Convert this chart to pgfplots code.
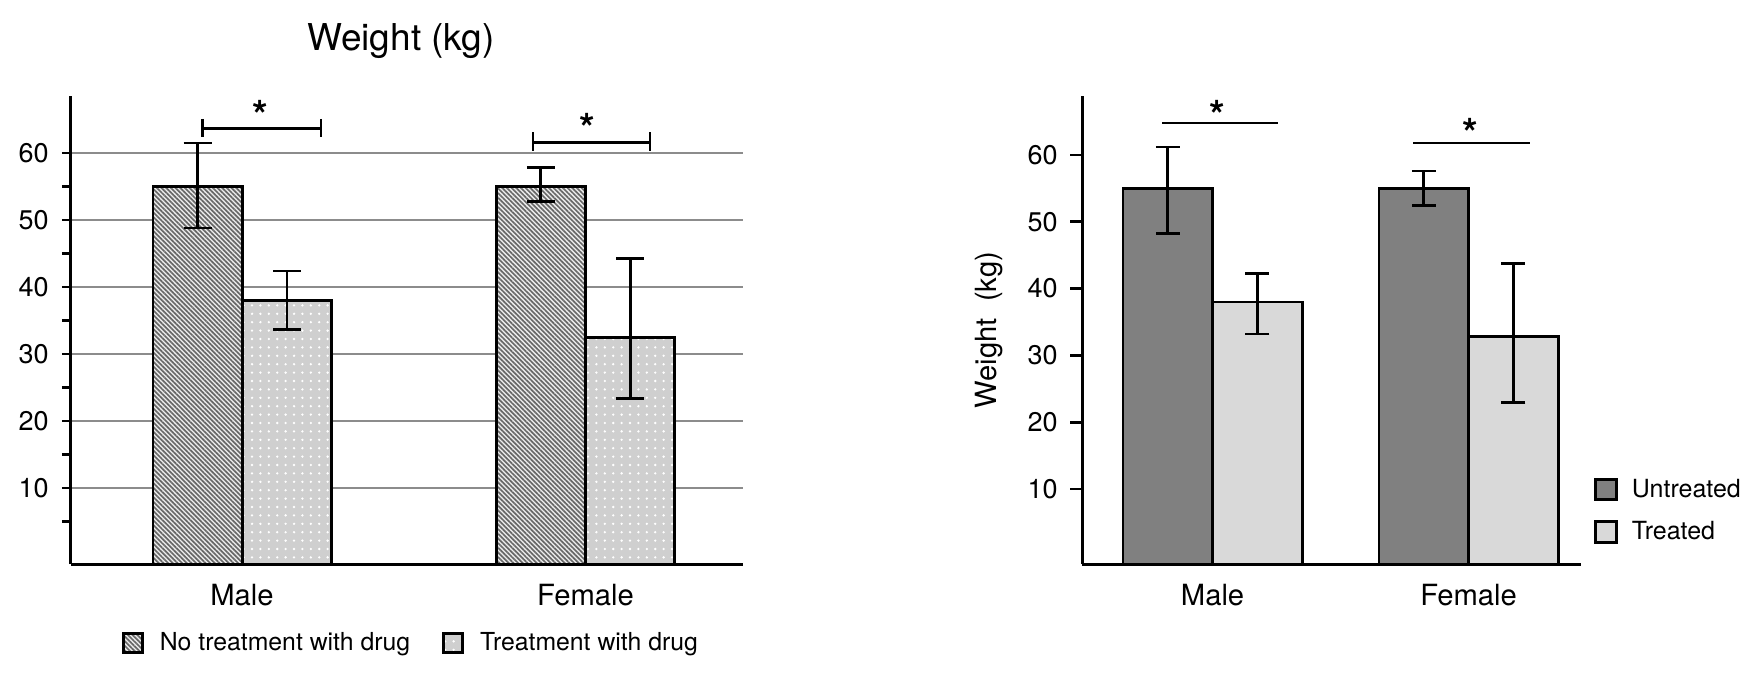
\documentclass[border=0pt]{standalone}
\usepackage{fontspec}
\setmainfont{TeX Gyre Heros}
\usepackage{pgfplots}
\pgfplotsset{compat=1.18}
\usetikzlibrary{patterns.meta}

\definecolor{hatchgray}{HTML}{686868}
\definecolor{hatchbg}{HTML}{EEEEEE}
\definecolor{dotgray}{HTML}{CFCFCF}
\definecolor{darkbar}{HTML}{808080}
\definecolor{lightbar}{HTML}{D9D9D9}
\definecolor{gridgray}{HTML}{8C8C8C}

\tikzset{
  hatchbar/.style={draw=black, line width=1.4pt, line join=miter,
    preaction={fill=hatchbg},
    pattern={Lines[angle=-45, distance=1.65pt, line width=0.85pt]},
    pattern color=hatchgray},
  dotbar/.style={draw=black, line width=1.4pt, line join=miter,
    preaction={fill=dotgray},
    pattern={Dots[distance=4.2pt, radius=0.65pt]},
    pattern color=white},
  darkbar/.style={draw=black, line width=1.4pt, line join=miter, fill=darkbar},
  lightbar/.style={draw=black, line width=1.4pt, line join=miter, fill=lightbar},
  star/.style={anchor=north, inner sep=0pt, font=\fontsize{20}{20}\bfseries},
}

\pgfplotsset{
  common/.style={
    scale only axis, clip=false,
    axis x line*=bottom, axis y line*=left,
    axis line style={line width=1.5pt},
    xtick={1,2}, xticklabels={Male,Female},
    x tick style={draw=none},
    ytick={10,20,...,60},
    y tick style={line width=1.4pt, black},
    tick align=outside,
    /pgf/number format/assume math mode=true,
    y tick label style={font=\fontsize{13.5}{15}\selectfont, inner sep=0pt},
    x tick label style={font=\fontsize{14.6}{17}\selectfont, inner sep=0pt, anchor=north},
  },
  errbar/.style={draw=none, mark=none, forget plot,
    error bars/.cd, y dir=both, y explicit,
    error bar style={draw=black, line width=1.4pt},
    error mark options={rotate=90, draw=black, line width=1.4pt, mark size=#1}},
}

\begin{document}
\begin{tikzpicture}
\path[use as bounding box] (0,0) rectangle (882pt,-337.5pt);

% left panel: patterned bars with grid
\begin{axis}[common,
  at={(35.5pt,-282pt)}, anchor=south west,
  width=336pt, height=234pt,
  xmin=0.502, xmax=2.4585, ymin=-1.343, ymax=68.507,
  minor ytick={5,15,...,55},
  major tick length=4.5pt, minor tick length=4.5pt,
  ymajorgrids, major grid style={gridgray, line width=0.65pt},
  y tick label style={xshift=-6.5pt},
  x tick label style={yshift=-5.5pt},
  legend columns=2,
  legend image code/.code={\draw[#1] (0pt,-4.75pt) rectangle (9.5pt,4.75pt);},
  legend style={draw=none, fill=none, inner sep=0pt, outer sep=0pt,
    at={(0.0759,-0.1453)}, anchor=north west,
    font=\fontsize{12.4}{15}\selectfont,
    nodes={inner sep=0pt}, cells={anchor=west},
    /tikz/every odd column/.append style={column sep=8pt},
    /tikz/every even column/.append style={column sep=16pt}},
]
\addplot[hatchbar] coordinates {(0.741,-1.343) (0.741,55) (1.001,55) (1.001,-1.343)} -- cycle;
\addlegendentry{No treatment with drug}
\addplot[dotbar] coordinates {(1.001,-1.343) (1.001,38) (1.261,38) (1.261,-1.343)} -- cycle;
\addlegendentry{Treatment with drug}
\addplot[hatchbar, forget plot] coordinates {(1.740,-1.343) (1.740,55) (2.000,55) (2.000,-1.343)} -- cycle;
\addplot[dotbar, forget plot] coordinates {(2.000,-1.343) (2.000,32.5) (2.260,32.5) (2.260,-1.343)} -- cycle;

\addplot[errbar=7pt] coordinates {
  (0.871,55)   += (0,6.5)  -= (0,6.2)
  (1.131,38)   += (0,4.4)  -= (0,4.4)
  (1.870,55)   += (0,2.8)  -= (0,2.2)
  (2.130,32.5) += (0,11.7) -= (0,9.1)
};

% significance brackets
\draw[line width=1.4pt]
  (axis cs:0.886,65.1) -- (axis cs:0.886,62.4)
  (axis cs:0.886,63.6) -- (axis cs:1.230,63.6)
  (axis cs:1.230,65.1) -- (axis cs:1.230,62.4);
\draw[line width=1.4pt]
  (axis cs:1.847,63.1) -- (axis cs:1.847,60.3)
  (axis cs:1.847,61.6) -- (axis cs:2.188,61.6)
  (axis cs:2.188,63.1) -- (axis cs:2.188,60.3);
\node[star] at (axis cs:1.052,67.9) {*};
\node[star] at (axis cs:2.004,66.0) {*};
\end{axis}
\node[anchor=base, inner sep=0pt, font=\fontsize{18.5}{22}\selectfont] at (200.5pt,-25pt) {Weight (kg)};

% right panel: plain grey bars
\begin{axis}[common,
  at={(541pt,-282pt)}, anchor=south west,
  width=249.5pt, height=234pt,
  xmin=0.49, xmax=2.439, ymin=-1.23, ymax=68.83,
  major tick length=6pt,
  y tick label style={xshift=-6pt},
  x tick label style={yshift=-3.75pt},
  ylabel={Weight\ \ (kg)},
  ylabel style={at={(-0.1864,0.5)}, anchor=center, rotate=0, font=\fontsize{14.6}{18}\selectfont},
  legend columns=1,
  legend image code/.code={\draw[#1] (0pt,-5.1pt) rectangle (10.5pt,5.1pt);},
  legend style={draw=none, fill=none, inner sep=0pt, outer sep=0pt,
    at={(1.026,0.1836)}, anchor=north west,
    font=\fontsize{12.5}{15}\selectfont,
    nodes={inner sep=0pt}, cells={anchor=west},
    row sep=9.6pt,
    /tikz/every odd column/.append style={column sep=7pt}},
]
\addplot[darkbar] coordinates {(0.65,-1.23) (0.65,55) (1.00,55) (1.00,-1.23)} -- cycle;
\addlegendentry{Untreated}
\addplot[lightbar] coordinates {(1.00,-1.23) (1.00,38) (1.35,38) (1.35,-1.23)} -- cycle;
\addlegendentry{Treated}
\addplot[darkbar, forget plot] coordinates {(1.65,-1.23) (1.65,55) (2.00,55) (2.00,-1.23)} -- cycle;
\addplot[lightbar, forget plot] coordinates {(2.00,-1.23) (2.00,32.8) (2.35,32.8) (2.35,-1.23)} -- cycle;

\addplot[errbar=6pt] coordinates {
  (0.825,55)   += (0,6.2)  -= (0,6.7)
  (1.175,38)   += (0,4.2)  -= (0,4.8)
  (1.825,55)   += (0,2.6)  -= (0,2.6)
  (2.175,32.8) += (0,11.0) -= (0,9.8)
};

\draw[line width=0.8pt] (axis cs:0.8025,64.8) -- (axis cs:1.256,64.8);
\draw[line width=0.8pt] (axis cs:1.783,61.8) -- (axis cs:2.240,61.8);
\node[star] at (axis cs:1.017,68.2) {*};
\node[star] at (axis cs:2.006,65.5) {*};
\end{axis}
\end{tikzpicture}
\end{document}
